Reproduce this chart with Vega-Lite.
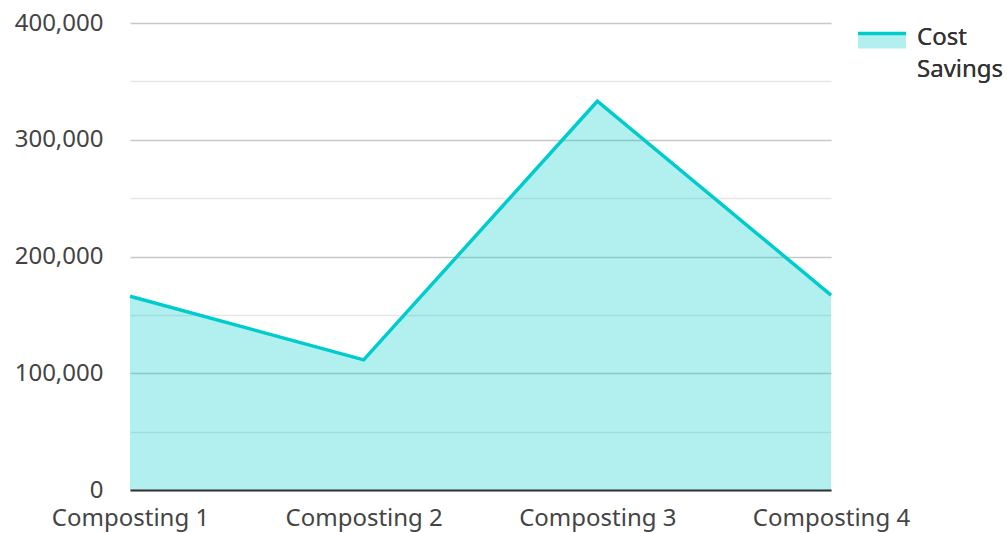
{
  "$schema": "https://vega.github.io/schema/vega-lite/v6.json",
  "width": 701,
  "height": 467,
  "autosize": "none",
  "padding": {"left": 130, "top": 23, "right": 176, "bottom": 43},
  "background": "white",
  "config": {
    "font": "Noto Sans",
    "view": {"stroke": null}
  },
  "data": {
    "values": [
      {"category": "Composting 1", "value": 166000, "series": "Cost Savings"},
      {"category": "Composting 2", "value": 111500, "series": "Cost Savings"},
      {"category": "Composting 3", "value": 333000, "series": "Cost Savings"},
      {"category": "Composting 4", "value": 167000, "series": "Cost Savings"}
    ]
  },
  "encoding": {
    "x": {
      "field": "category",
      "type": "ordinal",
      "scale": {"type": "point", "padding": 0},
      "axis": {
        "title": null,
        "labelAngle": 0,
        "labelFontSize": 24,
        "labelColor": "#444444",
        "labelPadding": 16,
        "ticks": false,
        "domainColor": "#333333",
        "domainWidth": 2,
        "grid": false,
        "zindex": 1
      }
    },
    "y": {
      "field": "value",
      "type": "quantitative",
      "scale": {"domain": [0, 400000], "nice": false},
      "axis": {
        "title": null,
        "values": [0, 50000, 100000, 150000, 200000, 250000, 300000, 350000, 400000],
        "labelExpr": "datum.value % 100000 === 0 ? format(datum.value, ',') : ''",
        "labelFontSize": 24,
        "labelColor": "#444444",
        "labelPadding": 27,
        "ticks": false,
        "domain": false,
        "gridColor": {"condition": {"test": "datum.value % 100000 === 0", "value": "#c8c8c8"}, "value": "#e6e6e6"},
        "gridWidth": 1.5
      }
    }
  },
  "layer": [
    {
      "mark": {"type": "area", "fillOpacity": 1, "line": false},
      "encoding": {
        "fill": {
          "field": "series",
          "type": "nominal",
          "scale": {"range": ["rgba(0,204,204,0.3)"]},
          "legend": {
            "title": null,
            "orient": "none",
            "legendX": 726,
            "legendY": -8,
            "labelFontSize": 24,
            "labelColor": "#333333",
            "labelOffset": 9,
            "labelExpr": "split(datum.label, ' ')",
            "labelBaseline": "alphabetic",
            "symbolType": "M-1,-0.31L1,-0.31L1,0.31L-1,0.31Z",
            "symbolSize": 2304,
            "symbolDash": [48, 1000],
            "symbolStrokeWidth": 3.5,
            "encode": {
              "labels": {
                "update": {
                  "lineHeight": {"value": 32},
                  "dy": {"value": 4}
                }
              }
            }
          }
        }
      }
    },
    {
      "mark": {"type": "line", "strokeWidth": 3.5},
      "encoding": {
        "stroke": {
          "field": "series",
          "type": "nominal",
          "scale": {"range": ["#00cccc"]},
          "legend": {
            "title": null,
            "orient": "none",
            "legendX": 726,
            "legendY": -8,
            "labelFontSize": 24,
            "labelColor": "#333333",
            "labelOffset": 9,
            "labelExpr": "split(datum.label, ' ')",
            "labelBaseline": "alphabetic",
            "symbolType": "M-1,-0.31L1,-0.31L1,0.31L-1,0.31Z",
            "symbolSize": 2304,
            "symbolDash": [48, 1000],
            "symbolStrokeWidth": 3.5,
            "encode": {
              "labels": {
                "update": {
                  "lineHeight": {"value": 32},
                  "dy": {"value": 4}
                }
              }
            }
          }
        }
      }
    }
  ]
}
